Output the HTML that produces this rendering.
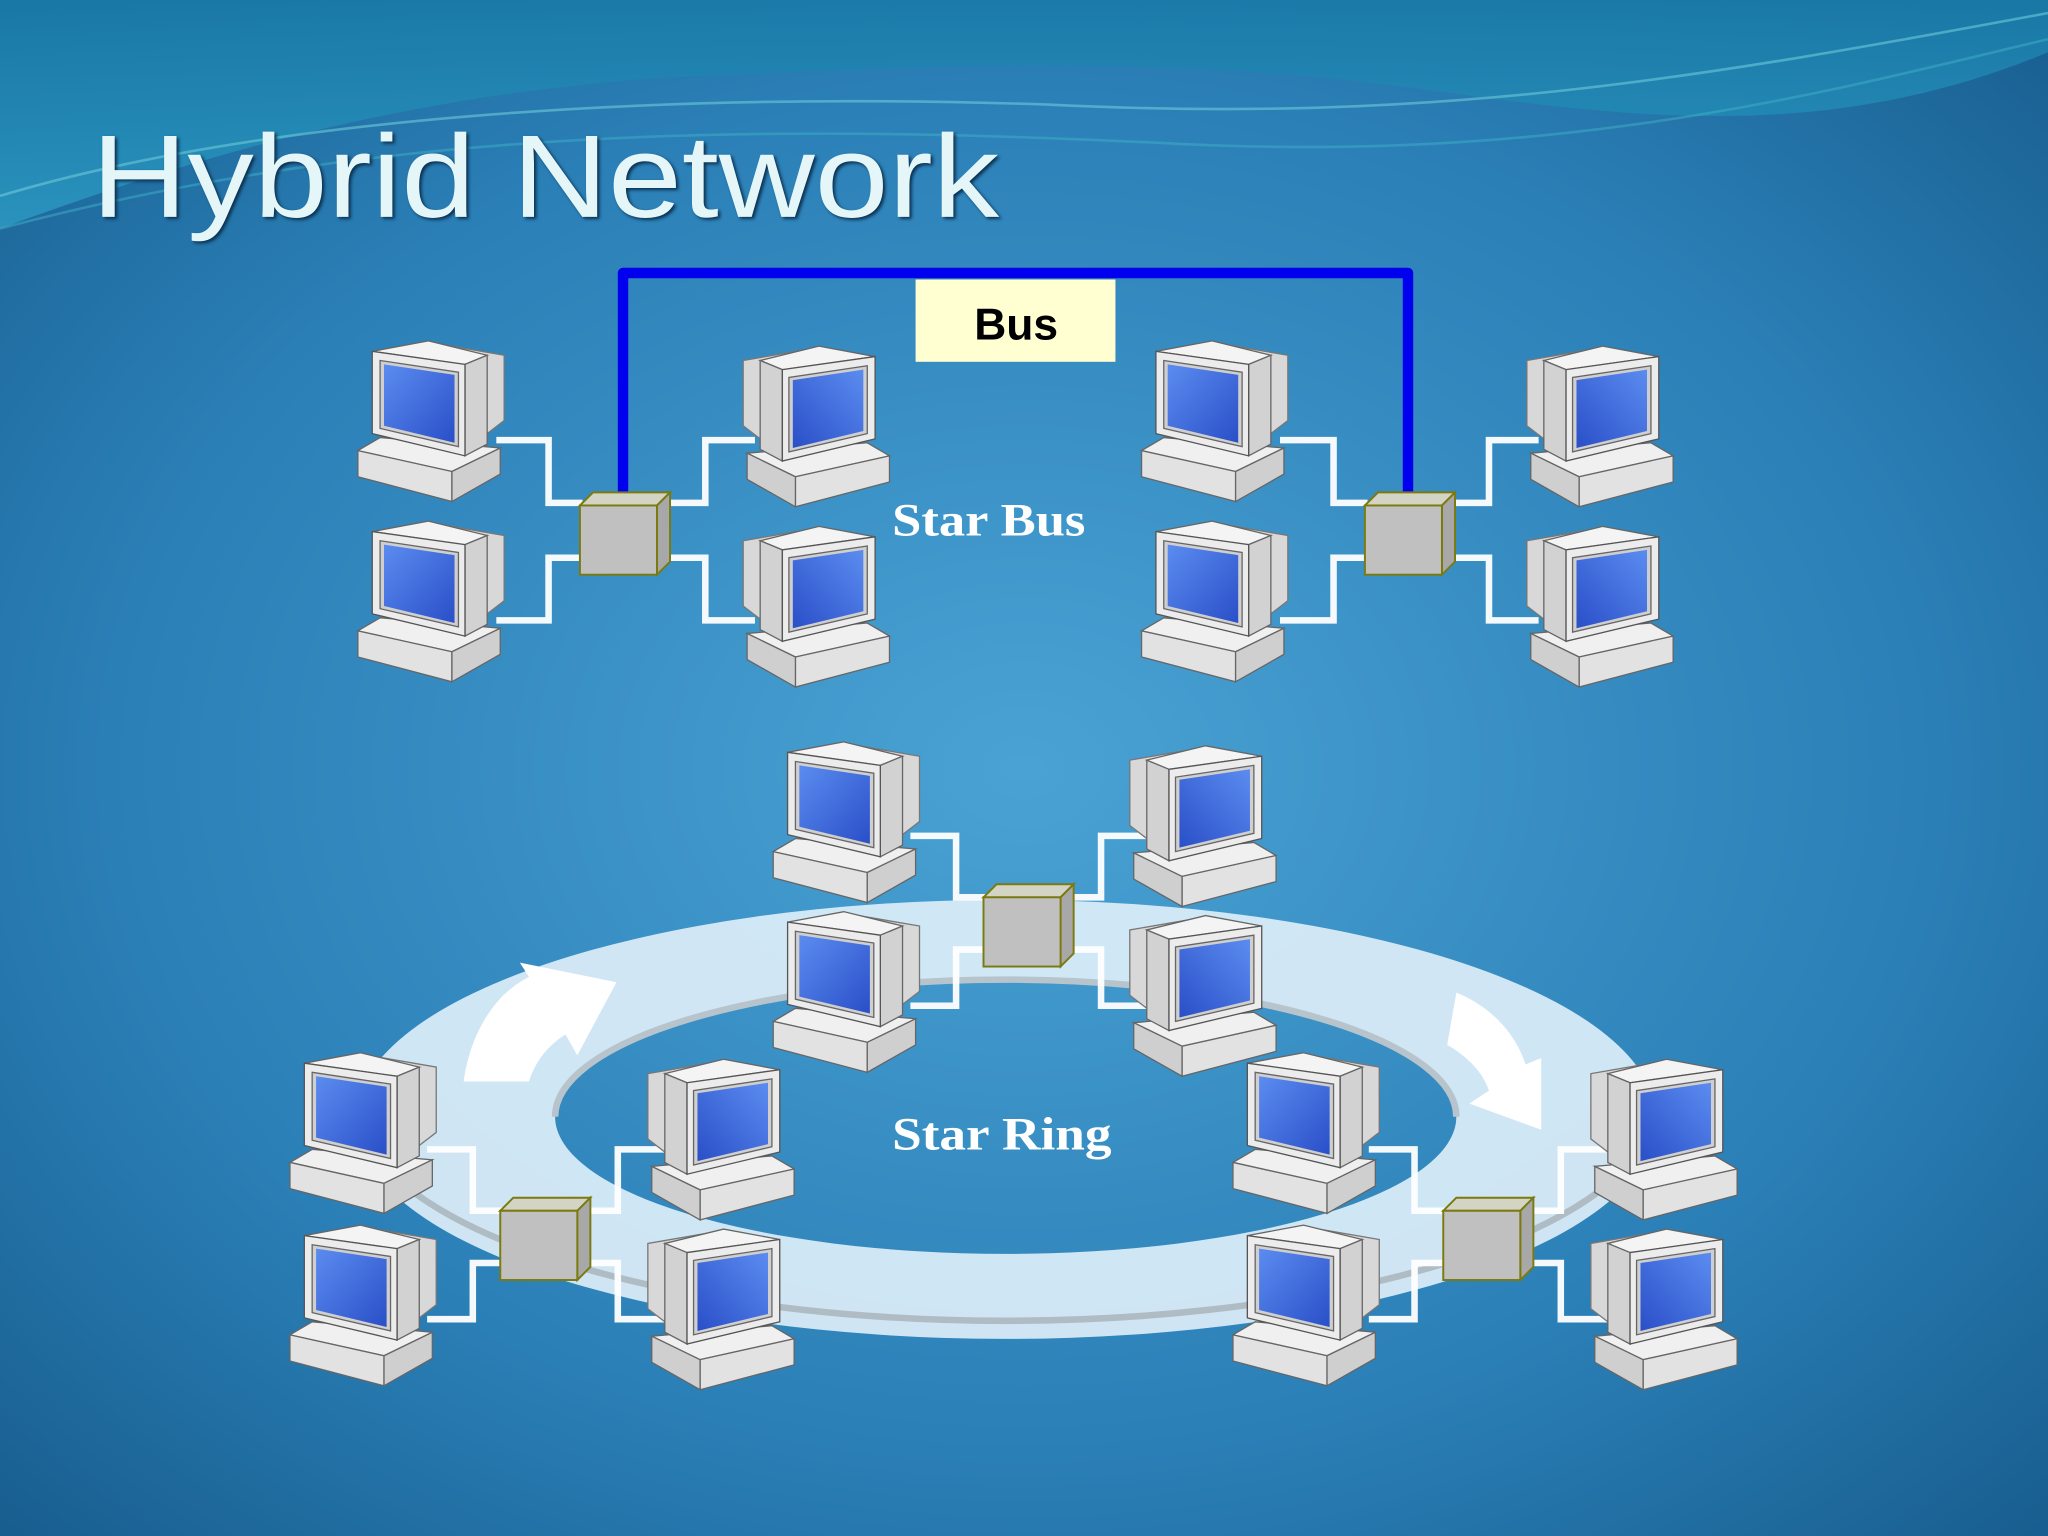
<!DOCTYPE html>
<html><head><meta charset="utf-8"><style>
html,body{margin:0;padding:0;width:2048px;height:1536px;overflow:hidden;background:#1e6ea3}
svg{display:block}
</style></head><body>
<svg width="2048" height="1536" viewBox="0 0 1568 1176" xmlns="http://www.w3.org/2000/svg">
<defs>
<radialGradient id="bg" cx="0.5" cy="0.5" r="0.75">
<stop offset="0" stop-color="#4aa2d4"/><stop offset="0.6" stop-color="#2a7fb6"/><stop offset="1" stop-color="#155888"/>
</radialGradient>
<linearGradient id="scr" x1="0" y1="0" x2="1" y2="1">
<stop offset="0" stop-color="#5b8cf0"/><stop offset="1" stop-color="#2a4fc8"/>
</linearGradient>
<linearGradient id="wave" x1="0" y1="0" x2="0" y2="1">
<stop offset="0" stop-color="#1a7aa8"/><stop offset="1" stop-color="#2b97c0"/>
</linearGradient>
<g id="pc">
<polygon points="1,85 18,75 110,83 73,101" fill="#f0f0f0" stroke="#666" stroke-width="1"/>
<polygon points="1,85 73,101 73,124 1,105" fill="#e2e2e2" stroke="#666" stroke-width="1"/>
<polygon points="73,101 110,83 110,103 73,124" fill="#cfcfcf" stroke="#666" stroke-width="1"/>
<polygon points="55,2 113,12 113,62 100,72 83,19" fill="#d8d8d8" stroke="#777" stroke-width="1"/>
<polygon points="12,9 55,1 100,12 83,19" fill="#f4f4f4" stroke="#666" stroke-width="1"/>
<polygon points="83,19 100,12 100,80 83,89" fill="#d2d2d2" stroke="#666" stroke-width="1"/>
<polygon points="12,9 83,19 83,89 12,72" fill="#ececec" stroke="#555" stroke-width="1"/>
<polygon points="18,16 78,25 78,82 18,68" fill="#cfcfcf" stroke="#666" stroke-width="1"/>
<polygon points="21,19 75,27 75,79 21,66" fill="url(#scr)"/>
</g>
<g id="hub">
<polygon points="0,10 10,0 69,0 59,10" fill="#d4d4c4" stroke="#7a7a10" stroke-width="1.5"/>
<polygon points="59,10 69,0 69,53 59,63" fill="#a8a8a8" stroke="#7a7a10" stroke-width="1.5"/>
<rect x="0" y="10" width="59" height="53" fill="#c0c0c0" stroke="#7a7a10" stroke-width="1.5"/>
</g>
</defs>
<rect width="1568" height="1176" fill="url(#bg)"/>
<path d="M0,0 H1568 V40 C1400,110 1250,90 1100,70 C900,40 700,50 500,60 C300,75 150,120 0,175 Z" fill="url(#wave)" opacity="0.9"/>
<path d="M0,150 C200,90 500,70 800,80 C1100,95 1300,60 1568,10" fill="none" stroke="#6cc9d8" stroke-width="2" opacity="0.6"/>
<path d="M0,175 C300,95 600,95 900,110 C1200,125 1400,70 1568,30" fill="none" stroke="#3fb0c8" stroke-width="2" opacity="0.5"/>
<text x="70" y="166" font-family="Liberation Sans, sans-serif" font-size="90" fill="#e4f6f8" textLength="695" lengthAdjust="spacingAndGlyphs" style="text-shadow:2px 2px 3px #0a3050">Hybrid Network</text>

<path d="M477,380 V209 H1078 V380" fill="none" stroke="#0000ee" stroke-width="8" stroke-linejoin="round"/>
<rect x="701" y="214" width="153" height="63" fill="#ffffd2"/>
<text x="778" y="260" text-anchor="middle" font-family="Liberation Sans, sans-serif" font-weight="bold" font-size="34" fill="#000">Bus</text>

<g fill="none" stroke="#fff" stroke-width="5" opacity="0.95">
<path d="M380,337 H420 V385 H446"/><path d="M380,475 H420 V427 H446"/>
<path d="M578,337 H540 V385 H510"/><path d="M578,475 H540 V427 H510"/>
<path d="M980,337 H1021 V385 H1047"/><path d="M980,475 H1021 V427 H1047"/>
<path d="M1178,337 H1140 V385 H1110"/><path d="M1178,475 H1140 V427 H1110"/>
</g>

<path fill-rule="evenodd" d="M272,857 A498,168 0 1,0 1268,857 A498,168 0 1,0 272,857 Z M425,855 A345,105 0 1,0 1115,855 A345,105 0 1,0 425,855 Z" fill="#dcedf9" opacity="0.93"/>
<path d="M425,855 A345,105 0 0,1 1115,855" fill="none" stroke="#b8c4cc" stroke-width="5"/>
<path d="M290,880 A498,168 0 0,0 1250,880" fill="none" stroke="#b0bcc4" stroke-width="5" transform="translate(0,8)"/>
<path d="M355,828 C360,790 380,760 405,748 L398,737 L472,752 L442,808 L433,792 C420,800 410,812 405,828 Z" fill="#fff"/>
<path d="M1115,760 C1140,770 1160,790 1168,815 L1180,810 L1180,865 L1125,845 L1140,835 C1135,820 1122,808 1108,800 Z" fill="#fff"/>

<g fill="none" stroke="#fff" stroke-width="5" opacity="0.95">
<path d="M697,640 H732 V687 H755"/><path d="M697,770 H732 V727 H755"/>
<path d="M880,640 H843 V687 H818"/><path d="M880,770 H843 V727 H818"/>
<path d="M327,880 H362 V927 H385"/><path d="M327,1010 H362 V967 H385"/>
<path d="M510,880 H473 V927 H448"/><path d="M510,1010 H473 V967 H448"/>
<path d="M1048,880 H1083 V927 H1107"/><path d="M1048,1010 H1083 V967 H1107"/>
<path d="M1231,880 H1195 V927 H1170"/><path d="M1231,1010 H1195 V967 H1170"/>
</g>

<use href="#hub" x="444" y="377"/>
<use href="#hub" x="1045" y="377"/>
<use href="#hub" x="753" y="677"/>
<use href="#hub" x="383" y="917"/>
<use href="#hub" x="1105" y="917"/>

<use href="#pc" x="273" y="260"/><use href="#pc" x="273" y="398"/>
<use href="#pc" transform="translate(682,264) scale(-1,1)"/><use href="#pc" transform="translate(682,402) scale(-1,1)"/>
<use href="#pc" x="873" y="260"/><use href="#pc" x="873" y="398"/>
<use href="#pc" transform="translate(1282,264) scale(-1,1)"/><use href="#pc" transform="translate(1282,402) scale(-1,1)"/>

<use href="#pc" x="591" y="567"/><use href="#pc" x="591" y="697"/>
<use href="#pc" transform="translate(978,570) scale(-1,1)"/><use href="#pc" transform="translate(978,700) scale(-1,1)"/>

<use href="#pc" x="221" y="805"/><use href="#pc" x="221" y="937"/>
<use href="#pc" transform="translate(609,810) scale(-1,1)"/><use href="#pc" transform="translate(609,940) scale(-1,1)"/>
<use href="#pc" x="943" y="805"/><use href="#pc" x="943" y="937"/>
<use href="#pc" transform="translate(1331,810) scale(-1,1)"/><use href="#pc" transform="translate(1331,940) scale(-1,1)"/>

<text x="683" y="410" font-family="Liberation Serif, serif" font-weight="bold" font-size="36" fill="#fff" textLength="148" lengthAdjust="spacingAndGlyphs">Star Bus</text>
<text x="683" y="880" font-family="Liberation Serif, serif" font-weight="bold" font-size="36" fill="#fff" textLength="168" lengthAdjust="spacingAndGlyphs">Star Ring</text>
</svg>
</body></html>
